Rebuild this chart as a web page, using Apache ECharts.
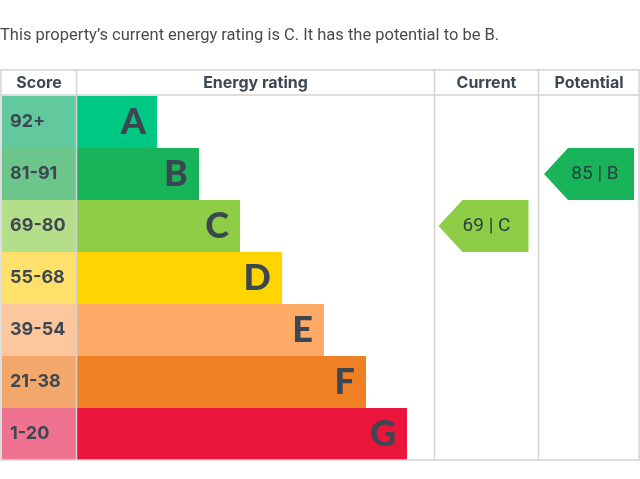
<!DOCTYPE html>
<html>
<head>
<meta charset="utf-8">
<script src="https://cdn.jsdelivr.net/npm/echarts@6/dist/echarts.min.js"></script>
<style>
  html, body { margin: 0; padding: 0; background: #fff; }
  #chart { width: 640px; height: 479px; }
</style>
</head>
<body>
<div id="chart"></div>
<script>
// Bands, top (best) to bottom (worst)
const bands = ["A", "B", "C", "D", "E", "F", "G"];
const scoreRanges = ["92+", "81-91", "69-80", "55-68", "39-54", "21-38", "1-20"];
// bar lengths (px of the 357px wide rating column)
const barLengths = [80, 122, 163, 205, 247, 289, 330];
const barColors = ["#00c781", "#19b459", "#8dce46", "#ffd500", "#fcaa65", "#ef8023", "#e9153b"];
const scoreColors = ["#62c99e", "#6cc58a", "#b4de89", "#ffe06a", "#fdc69c", "#f4a76b", "#ef7390"];

const currentScore = 69;
const currentBand = "C";
const potentialScore = 85;
const potentialBand = "B";

const headers = ["Score", "Energy rating", "Current", "Potential"];
const summary = "This property\u2019s current energy rating is C. It has the potential to be B.";

const textDark = "#3c4752";
const borderColor = "#d3d3d3";
const arrowPath = "path://M0,26L24,0L90,0L90,52L24,52Z";

const chartDom = document.getElementById("chart");
const myChart = echarts.init(chartDom);

// each column of the table is its own grid
const cols = [
    { left: 2, width: 74 },
    { left: 77, width: 357 },
    { left: 435, width: 103 },
    { left: 539, width: 100 }
];

function bandAxis(i) {
    return {
        type: "category",
        gridIndex: i,
        data: bands,
        inverse: true,
        show: false
    };
}

function arrowSeries(grid, score, band, shift) {
    return {
        type: "scatter",
        xAxisIndex: grid,
        yAxisIndex: grid,
        symbol: arrowPath,
        symbolSize: [90, 52],
        symbolOffset: [shift, 0],
        silent: true,
        data: [{
            value: [0.5, band],
            itemStyle: { color: barColors[bands.indexOf(band)], opacity: 1 }
        }],
        label: {
            show: true,
            position: "inside",
            offset: [shift + 6, 0],
            formatter: `${score} | ${band}`,
            color: "#2a4045",
            fontFamily: "Roboto",
            fontSize: 19
        }
    };
}

const option = {
    animation: false,
    grid: cols.map(c => ({ left: c.left, width: c.width, top: 96, height: 364 })),
    xAxis: [
        { type: "value", gridIndex: 0, min: 0, max: 1, show: false },
        { type: "value", gridIndex: 1, min: 0, max: 357, show: false },
        { type: "value", gridIndex: 2, min: 0, max: 1, show: false },
        { type: "value", gridIndex: 3, min: 0, max: 1, show: false }
    ],
    yAxis: [bandAxis(0), bandAxis(1), bandAxis(2), bandAxis(3)],
    graphic: [
        {
            type: "text", left: 0, top: 27,
            style: { text: summary, fill: "#4a4a4a", font: "16.5px Roboto" }
        },
        {
            type: "rect", silent: true,
            shape: { x: 1, y: 70, width: 638, height: 390 },
            style: { fill: "none", stroke: borderColor, lineWidth: 1.5 },
            z: 10
        },
        {
            type: "line", silent: true,
            shape: { x1: 1, y1: 95, x2: 639, y2: 95 },
            style: { stroke: borderColor, lineWidth: 1.5 }, z: 10
        },
        ...[76.5, 434.5, 538.5].map(x => ({
            type: "line", silent: true,
            shape: { x1: x, y1: 70, x2: x, y2: 460 },
            style: { stroke: borderColor, lineWidth: 1.5 }, z: 10
        })),
        ...headers.map((h, i) => ({
            type: "text",
            x: cols[i].left + cols[i].width / 2,
            y: 83,
            style: {
                text: h, fill: textDark, align: "center", verticalAlign: "middle",
                font: "700 16px Inter"
            }
        }))
    ],
    series: [
        {
            type: "bar",
            xAxisIndex: 0,
            yAxisIndex: 0,
            barCategoryGap: 0,
            silent: true,
            data: scoreRanges.map((s, i) => ({ value: 1, itemStyle: { color: scoreColors[i] } })),
            label: {
                show: true,
                position: "insideLeft",
                distance: 8,
                formatter: p => scoreRanges[p.dataIndex],
                color: textDark,
                fontFamily: "Inter",
                fontWeight: 700,
                fontSize: 18
            }
        },
        {
            type: "bar",
            xAxisIndex: 1,
            yAxisIndex: 1,
            barCategoryGap: 0,
            silent: true,
            data: barLengths.map((v, i) => ({ value: v, itemStyle: { color: barColors[i] } })),
            label: {
                show: true,
                position: "insideRight",
                distance: 11,
                formatter: p => bands[p.dataIndex],
                color: textDark,
                fontFamily: "Lato",
                fontWeight: 900,
                fontSize: 36
            }
        },
        arrowSeries(2, currentScore, currentBand, -3),
        arrowSeries(3, potentialScore, potentialBand, 0)
    ]
};

myChart.setOption(option);
</script>
</body>
</html>
